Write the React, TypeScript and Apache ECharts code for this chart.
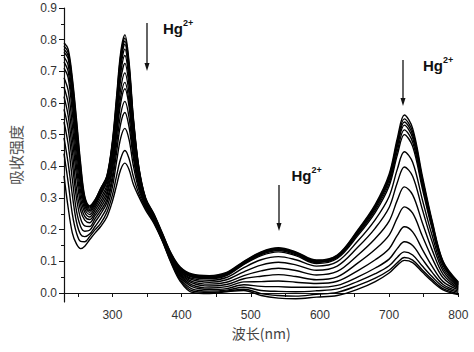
import React, { useEffect, useRef } from "react";
import * as echarts from "echarts";

// wavelength grid (nm)
const wavelengths = [230, 236, 242, 248, 254, 260, 267, 275, 283, 292, 300, 306, 312, 318, 324, 330, 338, 348, 360, 372, 385, 398, 415, 440, 465, 490, 515, 540, 565, 595, 625, 655, 680, 700, 712, 722, 734, 748, 762, 778, 800];

// absorbance spectra, from no Hg2+ (s00) to most Hg2+ (s14)
const s00 = [0.79, 0.77, 0.68, 0.55, 0.41, 0.305, 0.275, 0.295, 0.33, 0.37, 0.48, 0.62, 0.76, 0.815, 0.73, 0.56, 0.40, 0.30, 0.25, 0.19, 0.125, 0.082, 0.06, 0.055, 0.065, 0.10, 0.13, 0.143, 0.13, 0.104, 0.12, 0.20, 0.28, 0.375, 0.49, 0.562, 0.52, 0.37, 0.23, 0.10, 0.035];
const s01 = [0.78, 0.76, 0.67, 0.54, 0.40, 0.30, 0.272, 0.293, 0.33, 0.368, 0.475, 0.61, 0.75, 0.805, 0.72, 0.555, 0.398, 0.298, 0.248, 0.188, 0.123, 0.08, 0.058, 0.053, 0.063, 0.098, 0.128, 0.141, 0.128, 0.102, 0.118, 0.197, 0.276, 0.368, 0.48, 0.55, 0.51, 0.362, 0.225, 0.098, 0.033];
const s02 = [0.77, 0.75, 0.66, 0.52, 0.385, 0.295, 0.268, 0.29, 0.325, 0.365, 0.47, 0.60, 0.74, 0.795, 0.71, 0.55, 0.395, 0.296, 0.246, 0.186, 0.121, 0.078, 0.056, 0.051, 0.061, 0.096, 0.126, 0.139, 0.126, 0.10, 0.116, 0.194, 0.272, 0.362, 0.472, 0.54, 0.50, 0.356, 0.22, 0.096, 0.031];
const s03 = [0.76, 0.74, 0.64, 0.50, 0.37, 0.29, 0.264, 0.286, 0.32, 0.36, 0.46, 0.59, 0.73, 0.785, 0.70, 0.54, 0.39, 0.294, 0.244, 0.184, 0.119, 0.076, 0.054, 0.049, 0.059, 0.094, 0.124, 0.137, 0.124, 0.098, 0.114, 0.191, 0.268, 0.356, 0.463, 0.53, 0.49, 0.35, 0.216, 0.094, 0.029];
const s04 = [0.745, 0.72, 0.62, 0.48, 0.355, 0.283, 0.26, 0.282, 0.315, 0.355, 0.45, 0.58, 0.715, 0.77, 0.69, 0.53, 0.385, 0.292, 0.242, 0.182, 0.117, 0.074, 0.052, 0.047, 0.057, 0.092, 0.121, 0.134, 0.121, 0.096, 0.112, 0.187, 0.262, 0.347, 0.45, 0.515, 0.477, 0.34, 0.21, 0.091, 0.027];
const s05 = [0.73, 0.70, 0.60, 0.46, 0.34, 0.275, 0.255, 0.277, 0.31, 0.35, 0.44, 0.565, 0.695, 0.75, 0.675, 0.52, 0.38, 0.29, 0.24, 0.18, 0.115, 0.072, 0.05, 0.045, 0.055, 0.09, 0.118, 0.13, 0.118, 0.093, 0.109, 0.182, 0.255, 0.338, 0.437, 0.50, 0.463, 0.33, 0.204, 0.088, 0.025];
const s06 = [0.71, 0.68, 0.57, 0.43, 0.32, 0.265, 0.248, 0.27, 0.30, 0.34, 0.43, 0.55, 0.675, 0.725, 0.655, 0.505, 0.372, 0.288, 0.238, 0.178, 0.113, 0.069, 0.046, 0.04, 0.049, 0.08, 0.105, 0.115, 0.105, 0.085, 0.099, 0.165, 0.232, 0.305, 0.392, 0.446, 0.413, 0.295, 0.183, 0.079, 0.022];
const s07 = [0.68, 0.64, 0.53, 0.40, 0.30, 0.255, 0.24, 0.262, 0.29, 0.33, 0.415, 0.53, 0.645, 0.695, 0.63, 0.49, 0.365, 0.286, 0.236, 0.176, 0.111, 0.066, 0.042, 0.034, 0.042, 0.067, 0.088, 0.097, 0.089, 0.072, 0.085, 0.145, 0.205, 0.27, 0.35, 0.398, 0.369, 0.264, 0.163, 0.07, 0.019];
const s08 = [0.65, 0.60, 0.49, 0.37, 0.28, 0.242, 0.232, 0.253, 0.28, 0.318, 0.40, 0.51, 0.62, 0.665, 0.605, 0.475, 0.358, 0.284, 0.234, 0.175, 0.109, 0.063, 0.037, 0.028, 0.034, 0.055, 0.07, 0.078, 0.071, 0.057, 0.068, 0.12, 0.172, 0.227, 0.294, 0.335, 0.31, 0.222, 0.137, 0.059, 0.016];
const s09 = [0.62, 0.56, 0.45, 0.33, 0.26, 0.23, 0.222, 0.245, 0.27, 0.308, 0.39, 0.495, 0.60, 0.645, 0.59, 0.465, 0.352, 0.282, 0.232, 0.173, 0.107, 0.06, 0.032, 0.022, 0.027, 0.045, 0.053, 0.058, 0.052, 0.042, 0.051, 0.095, 0.138, 0.183, 0.238, 0.272, 0.252, 0.18, 0.111, 0.048, 0.013];
const s10 = [0.58, 0.52, 0.41, 0.30, 0.235, 0.212, 0.21, 0.235, 0.26, 0.295, 0.37, 0.47, 0.565, 0.605, 0.555, 0.445, 0.345, 0.28, 0.23, 0.172, 0.105, 0.056, 0.026, 0.016, 0.02, 0.035, 0.036, 0.038, 0.034, 0.03, 0.037, 0.071, 0.105, 0.14, 0.183, 0.209, 0.193, 0.138, 0.085, 0.036, 0.01];
const s11 = [0.54, 0.47, 0.36, 0.26, 0.21, 0.195, 0.198, 0.224, 0.25, 0.285, 0.355, 0.445, 0.535, 0.57, 0.525, 0.43, 0.338, 0.277, 0.228, 0.17, 0.103, 0.052, 0.02, 0.011, 0.014, 0.026, 0.021, 0.02, 0.018, 0.018, 0.024, 0.051, 0.079, 0.107, 0.141, 0.162, 0.15, 0.107, 0.066, 0.027, 0.006];
const s12 = [0.49, 0.41, 0.31, 0.225, 0.185, 0.178, 0.186, 0.21, 0.235, 0.27, 0.335, 0.415, 0.49, 0.52, 0.485, 0.405, 0.328, 0.273, 0.226, 0.168, 0.10, 0.047, 0.013, 0.006, 0.009, 0.018, 0.008, 0.005, 0.004, 0.007, 0.013, 0.037, 0.061, 0.086, 0.113, 0.13, 0.12, 0.085, 0.052, 0.02, 0.002];
const s13 = [0.44, 0.35, 0.25, 0.19, 0.163, 0.162, 0.178, 0.20, 0.22, 0.255, 0.31, 0.37, 0.425, 0.45, 0.425, 0.37, 0.315, 0.268, 0.223, 0.166, 0.097, 0.042, 0.007, 0.002, 0.006, 0.012, -0.002, -0.008, -0.01, -0.004, 0.002, 0.024, 0.047, 0.072, 0.096, 0.112, 0.104, 0.073, 0.043, 0.014, -0.002];
const s14 = [0.37, 0.27, 0.19, 0.155, 0.14, 0.148, 0.168, 0.19, 0.21, 0.24, 0.29, 0.34, 0.39, 0.41, 0.39, 0.345, 0.305, 0.262, 0.22, 0.165, 0.094, 0.037, 0.002, -0.002, 0.004, 0.008, -0.008, -0.016, -0.018, -0.013, -0.008, 0.012, 0.036, 0.063, 0.088, 0.103, 0.096, 0.066, 0.037, 0.01, -0.005];

const spectra = [s00, s01, s02, s03, s04, s05, s06, s07, s08, s09, s10, s11, s12, s13, s14];

const xTickValues = [250, 300, 350, 400, 450, 500, 550, 600, 650, 700, 750, 800];
const xLabelValues = [300, 400, 500, 600, 700, 800];
const yMajorValues = [0, 0.1, 0.2, 0.3, 0.4, 0.5, 0.6, 0.7, 0.8, 0.9];
const yMinorValues = [0.05, 0.15, 0.25, 0.35, 0.45, 0.55, 0.65, 0.75, 0.85];

const X_MIN = 230;
const X_MAX = 800;
const Y_MIN = -0.0284;
const Y_MAX = 0.9;

const FONT = "'Liberation Sans', Arial, sans-serif";

function arrow(x: number, y1: number, y2: number) {
  return [
    { type: "line", shape: { x1: x, y1: y1, x2: x, y2: y2 - 6 }, style: { stroke: "#111", lineWidth: 1.3 } },
    { type: "polygon", shape: { points: [[x - 2.5, y2 - 8], [x + 2.5, y2 - 8], [x, y2]] }, style: { fill: "#111" } },
  ];
}

function hgLabel(x: number, y: number) {
  return [
    { type: "text", x: x, y: y, style: { text: "Hg", font: "bold 15px " + FONT, fill: "#111", verticalAlign: "top" } },
    { type: "text", x: x + 20, y: y - 3, style: { text: "2+", font: "bold 9px " + FONT, fill: "#111", verticalAlign: "top" } },
  ];
}

export default function App() {
  const ref = useRef<HTMLDivElement>(null);
  useEffect(() => {
    if (!ref.current) return;
    const chart = echarts.init(ref.current, null, { renderer: "svg" });
    const series = spectra.map((s, i) => ({
      type: "line",
      name: "s" + i,
      data: wavelengths.map((w, j) => [w, s[j]]),
      smooth: 0.35,
      showSymbol: false,
      symbol: "none",
      lineStyle: { color: "#000", width: 1.4 },
      silent: true,
      z: 2,
    }));
    chart.setOption({
      animation: false,
      grid: { left: 60.7, right: 15.7, top: 8, bottom: 50 },
      xAxis: {
        type: "value",
        min: X_MIN,
        max: X_MAX,
        name: "波长(nm)",
        nameLocation: "middle",
        nameGap: 18,
        nameTextStyle: { fontFamily: "'Noto Sans CJK SC', " + FONT, fontSize: 14, color: "#444" },
        axisLine: { show: true, lineStyle: { color: "#111", width: 1.2 } },
        axisTick: { show: true, length: 4, customValues: xTickValues, lineStyle: { color: "#111" } },
        axisLabel: { customValues: xLabelValues, fontFamily: FONT, fontSize: 12, color: "#333", margin: 7 },
        splitLine: { show: false },
      },
      yAxis: [
        {
          type: "value",
          min: Y_MIN,
          max: Y_MAX,
          name: "吸收强度",
          nameLocation: "middle",
          nameRotate: 90,
          nameGap: 41,
          nameTextStyle: { fontFamily: "'Noto Sans CJK SC', " + FONT, fontSize: 15, color: "#555" },
          axisLine: { show: true, lineStyle: { color: "#111", width: 1.2 } },
          axisTick: { show: true, length: 5, customValues: yMajorValues, lineStyle: { color: "#111" } },
          axisLabel: {
            customValues: yMajorValues,
            fontFamily: FONT,
            fontSize: 12,
            color: "#333",
            margin: 7,
            formatter: (v: number) => v.toFixed(1),
          },
          splitLine: { show: false },
        },
        {
          type: "value",
          min: Y_MIN,
          max: Y_MAX,
          position: "left",
          axisLine: { show: false },
          axisTick: { show: true, length: 3, customValues: yMinorValues, lineStyle: { color: "#111" } },
          axisLabel: { show: false },
          splitLine: { show: false },
        },
      ],
      series: series,
      graphic: [
        ...arrow(147, 23, 71),
        ...hgLabel(163, 21),
        ...arrow(279, 185, 231),
        ...hgLabel(291.5, 168),
        ...arrow(403, 60, 106),
        ...hgLabel(423, 58),
      ],
    });
    return () => chart.dispose();
  }, []);
  return <div ref={ref} style={{ position: "absolute", left: 0, top: 0, width: 474, height: 352 }} />;
}
